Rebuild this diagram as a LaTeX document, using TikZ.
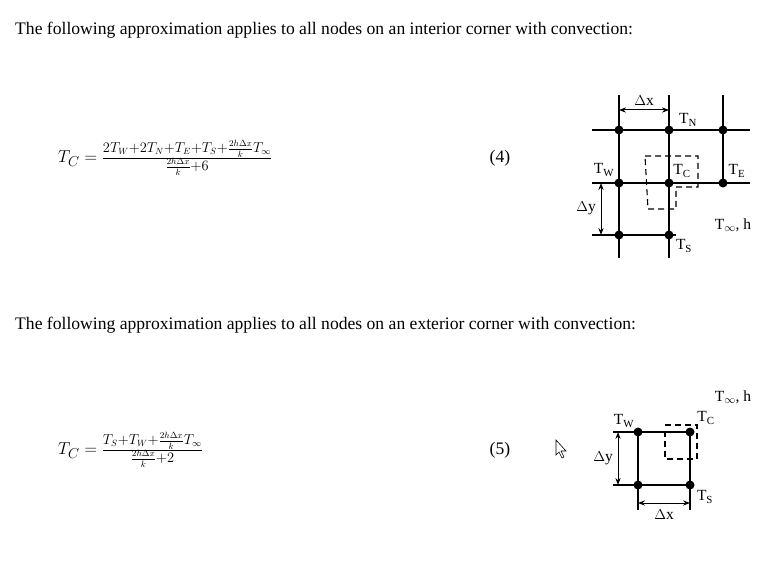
\documentclass[tikz,border=0pt]{standalone}
\usepackage{fontspec}
\setmainfont{Liberation Serif}
\usetikzlibrary{arrows.meta}
\begin{document}
\begin{tikzpicture}[x=1pt,y=-1pt,
  dot/.style={circle,fill=black,inner sep=0pt,minimum size=9pt},
  gl/.style={line width=1.2pt},
  dim/.style={line width=1pt,{Stealth[length=7pt]}-{Stealth[length=7pt]}},
  lab/.style={inner sep=0pt,font=\fontsize{15.5}{18}\selectfont},
  txt/.style={inner sep=0pt,anchor=west,font=\fontsize{17.6}{20}\selectfont},
  eq/.style={inner sep=0pt,anchor=west,font=\fontsize{19}{22}\selectfont},
  dsh/.style={dash pattern=on 6pt off 4pt,line width=1.1pt}]
\useasboundingbox (0,0) rectangle (771,580);
\node[txt] (t1) at (15,30) {The following approximation applies to all nodes on an interior corner with convection:};
\node[txt] (t2) at (15,325) {The following approximation applies to all nodes on an exterior corner with convection:};
\node[eq] (e4) at (58,158)
 {$T_C=\frac{2T_W+2T_N+T_E+T_S+\frac{2h\Delta x}{k}T_\infty}{\rule{0pt}{10pt}\frac{2h\Delta x}{k}+6}$};
\node[txt,anchor=center] (n4) at (500,158) {(4)};
\node[eq] (e5) at (58,450)
 {$T_C=\frac{T_S+T_W+\frac{2h\Delta x}{k}T_\infty}{\rule{0pt}{10pt}\frac{2h\Delta x}{k}+2}$};
\node[txt,anchor=center] (n5) at (500,450) {(5)};
% diagram 1
\draw[gl] (592,130) -- (750,130);
\draw[gl] (592,183) -- (750,183);
\draw[gl] (592,235) -- (676,235);
\draw[gl] (619,95) -- (619,258);
\draw[gl] (669,95) -- (669,258);
\draw[gl] (723,95) -- (723,183);
\node[dot] (a1) at (619,130) {}; \node[dot] (a2) at (669,130) {}; \node[dot] (a3) at (723,130) {};
\node[dot] (a4) at (619,183) {}; \node[dot] (a5) at (669,183) {}; \node[dot] (a6) at (723,183) {};
\node[dot] (a7) at (619,235) {}; \node[dot] (a8) at (669,235) {};
\draw[dsh] (645,156) -- (698,156) -- (698,187) -- (676,187) -- (676,209) -- (648,209) -- (645,156);
\coordinate (dx1) at (619,110); \coordinate (dx2) at (669,110);
\draw[dim] (dx1) -- (dx2);
\node[lab] (ldx) at (644,101) {$\Delta$x};
\coordinate (dy1) at (601,183); \coordinate (dy2) at (601,235);
\draw[dim] (dy1) -- (dy2);
\node[lab] (ldy) at (586,208) {$\Delta$y};
\node[lab] (tn) at (688,120) {T\textsubscript{N}};
\node[lab] (tw) at (604,170) {T\textsubscript{W}};
\node[lab] (tc) at (682,171) {T\textsubscript{C}};
\node[lab] (te) at (737,171) {T\textsubscript{E}};
\node[lab] (ts) at (684,246) {T\textsubscript{S}};
\node[lab] (th1) at (733,225) {T\textsubscript{$\infty$}, h};
% diagram 2
\draw[gl] (613,432) -- (690,432);
\draw[gl] (613,485) -- (690,485);
\draw[gl] (638,432) -- (638,510);
\draw[gl] (690,432) -- (690,510);
\node[dot] (b1) at (638,432) {}; \node[dot] (b2) at (690,432) {};
\node[dot] (b3) at (638,485) {}; \node[dot] (b4) at (690,485) {};
\draw[dsh] (665,425) -- (697,425) -- (697,459) -- (665,459) -- (665,432);
\coordinate (ex1) at (638,503); \coordinate (ex2) at (690,503);
\draw[dim] (ex1) -- (ex2);
\node[lab] (lex) at (664,515) {$\Delta$x};
\coordinate (ey1) at (618,432); \coordinate (ey2) at (618,485);
\draw[dim] (ey1) -- (ey2);
\node[lab] (ley) at (603,458) {$\Delta$y};
\node[lab] (tw2) at (624,421) {T\textsubscript{W}};
\node[lab] (tc2) at (706,418) {T\textsubscript{C}};
\node[lab] (ts2) at (705,497) {T\textsubscript{S}};
\node[lab] (th2) at (733,397) {T\textsubscript{$\infty$}, h};
% cursor
\draw[line width=0.6pt,fill=white] (556,440) -- (556,455) -- (559,452) -- (562,458) -- (564,457) -- (561,451) -- (566,451) -- cycle;
\end{tikzpicture}
\end{document}
